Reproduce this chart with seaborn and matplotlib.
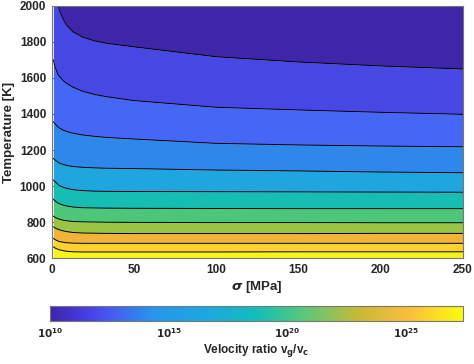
# -*- coding: utf-8 -*-
"""
Velocity ratio contour map (sigma vs temperature)
"""

import pandas as pd
import seaborn as sns
import matplotlib.pyplot as plt
from matplotlib.colors import LinearSegmentedColormap, LogNorm
from matplotlib.cm import ScalarMappable

#%% data

# stress positions where the contour lines were read [MPa]
sigma = [1, 2, 4, 5, 7, 9, 13, 19, 26, 33, 50, 100, 150, 200, 250]

# temperature of each contour line at those stresses [K]
line1 = [2300, 2120, 2000, 1967, 1925, 1893, 1855, 1825, 1805, 1792, 1772, 1717, 1688, 1666, 1649]
line2 = [1700, 1662, 1616, 1605, 1585, 1570, 1548, 1525, 1508, 1496, 1474, 1437, 1422, 1409, 1398]
line3 = [1357, 1345, 1327, 1320, 1310, 1303, 1293, 1283, 1276, 1270, 1261, 1237, 1228, 1222, 1218]
line4 = [1154, 1145, 1132, 1126, 1120, 1115, 1108, 1104, 1101, 1099, 1097, 1089, 1084, 1078, 1074]
line5 = [1034, 1025, 1008, 1001, 994, 988, 980, 975, 972, 971, 970, 969, 968, 967, 966]
line6 = [928, 918, 905, 901, 895, 890, 884, 880, 879, 878, 877, 876, 875, 875, 875]
line7 = [834, 827, 819, 816, 811, 808, 804, 802, 801, 800, 799, 798, 798, 797, 797]
line8 = [775, 768, 760, 757, 752, 748, 743, 740, 739, 738, 737, 737, 737, 738, 738]
line9 = [711, 704, 695, 692, 689, 686, 684, 683, 683, 683, 683, 683, 683, 683, 683]
line10 = [664, 657, 649, 646, 642, 639, 636, 635, 635, 635, 635, 635, 636, 636, 636]
lines = [line1, line2, line3, line4, line5, line6, line7, line8, line9, line10]

# colorbar range (velocity ratio) and ticks
cbar_min, cbar_max = 1e10, 10 ** 27.4
cbar_ticks = [1e10, 1e15, 1e20, 1e25]
cbar_ticklabels = [r'$\mathbf{10^{10}}$', r'$\mathbf{10^{15}}$',
                   r'$\mathbf{10^{20}}$', r'$\mathbf{10^{25}}$']

#%% style

# band fill colours, top (high T) to bottom (low T)
band_colors = ['#3E26A8', '#4748E4', '#4667F6', '#2E88EA', '#20A6DF',
               '#16BDB2', '#4CC779', '#99C444', '#F0B43A', '#FAD22E', '#F6F517']

# parula-like colormap for the colorbar
parula = LinearSegmentedColormap.from_list('parula', [
    (0.00, '#3E26A8'), (0.08, '#453BE1'), (0.13, '#4852F4'),
    (0.25, '#2796EB'), (0.38, '#1CA8E0'), (0.50, '#12BEB9'),
    (0.62, '#5CC878'), (0.75, '#C8B936'), (0.87, '#FCBD3D'),
    (1.00, '#F9FB0E')])


def draw_map():
    sns.set_theme(style='ticks')
    plt.rcParams['font.family'] = ['Liberation Sans', 'DejaVu Sans']
    plt.rcParams['font.weight'] = 'bold'

    fig = plt.figure(figsize=(4.74, 3.64), dpi=100)
    ax = fig.add_axes([51.7 / 474, 1 - 258.3 / 364, 411 / 474, 252.6 / 364])

    # filled bands between neighbouring contour lines
    bounds = [[3000] * len(sigma)] + lines + [[500] * len(sigma)]
    for k in range(len(bounds) - 1):
        ax.fill_between(sigma, bounds[k + 1], bounds[k],
                        color=band_colors[k], lw=0, zorder=1)

    # contour lines
    dfl = pd.DataFrame([(s, t, i) for i, ln in enumerate(lines)
                        for s, t in zip(sigma, ln)],
                       columns=['sigma', 'T', 'line'])
    sns.lineplot(data=dfl, x='sigma', y='T', units='line', estimator=None,
                 color='black', linewidth=0.7, sort=False, ax=ax, zorder=2)

    ax.set_xlim(0, 250)
    ax.set_ylim(600, 2000)
    ax.set_xticks(range(0, 251, 50))
    ax.set_yticks(range(600, 2001, 200))
    ax.tick_params(direction='in', length=3.5, width=0.6, top=True, right=True,
                   labelsize=8.5, pad=4, color='#333333')
    for lab in ax.get_xticklabels() + ax.get_yticklabels():
        lab.set_fontweight('bold')
    for sp in ax.spines.values():
        sp.set_color('#777777')
        sp.set_linewidth(0.8)
        sp.set_zorder(5)
    ax.set_xlabel(r'$\mathit{\sigma}$ [MPa]', fontsize=9.5, fontweight='bold',
                  labelpad=2)
    ax.set_ylabel('Temperature [K]', fontsize=9.5, fontweight='bold', labelpad=3)

    # horizontal colorbar below the map
    cax = fig.add_axes([50 / 474, 1 - 321 / 364, 413 / 474, 15.3 / 364])
    sm = ScalarMappable(norm=LogNorm(cbar_min, cbar_max), cmap=parula)
    cb = fig.colorbar(sm, cax=cax, orientation='horizontal')
    cb.set_ticks(cbar_ticks)
    cb.set_ticklabels(cbar_ticklabels)
    cb.minorticks_off()
    cax.tick_params(direction='in', length=3, width=0.6, labelsize=7.5,
                    pad=4, color='#333333')
    cb.outline.set_edgecolor('#777777')
    cb.outline.set_linewidth(0.8)
    cb.set_label(r'Velocity ratio v$_\mathbf{g}$/v$_\mathbf{c}$',
                 fontsize=8.5, fontweight='bold', labelpad=1)

    fig.savefig('out.png', dpi=100)
    plt.close(fig)


if __name__ == "__main__":
    draw_map()
